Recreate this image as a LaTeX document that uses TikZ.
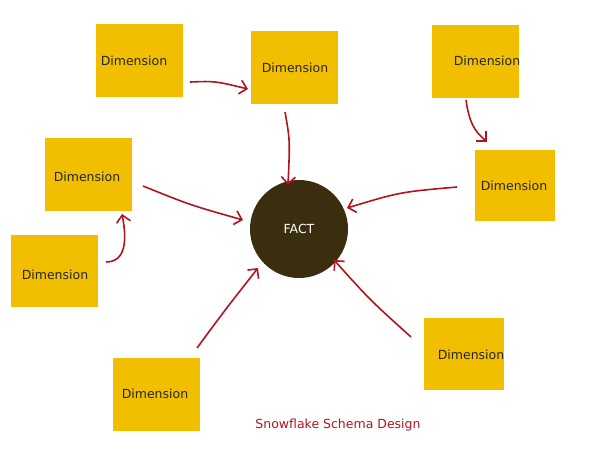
\documentclass[tikz,border=0pt]{standalone}
\usepackage{fontspec}
\setmainfont{DejaVu Sans}
\usetikzlibrary{arrows.meta}
\definecolor{boxy}{HTML}{F2BF00}
\definecolor{factc}{HTML}{3A2E0E}
\definecolor{arr}{HTML}{B0141E}
\begin{document}
\begin{tikzpicture}[x=1pt,y=-1pt,
  dim/.style={fill=boxy,minimum width=87pt,minimum height=73pt,inner sep=0pt},
  lbl/.style={font=\fontsize{12.5}{14}\selectfont,text=black!85},
  con/.style={draw=arr,line width=1.6pt,-{Straight Barb[length=7pt,width=14pt]}}]
\useasboundingbox (0,0) rectangle (609,450);
\node[dim] (b1) at (139,60) {};
\node[lbl] at (134,61) {Dimension};
\node[dim] (b2) at (294,67) {};
\node[lbl] at (295,68) {Dimension};
\node[dim] (b3) at (475,61) {};
\node[lbl] at (487,61) {Dimension};
\node[dim,minimum width=80pt,minimum height=71pt] (b4) at (515,185) {};
\node[lbl] at (514,186) {Dimension};
\node[dim] (b5) at (88,174) {};
\node[lbl] at (87,177) {Dimension};
\node[dim,minimum height=72pt] (b6) at (54,271) {};
\node[lbl] at (55,275) {Dimension};
\node[dim] (b7) at (156,394) {};
\node[lbl] at (155,394) {Dimension};
\node[dim,minimum width=80pt,minimum height=72pt] (b8) at (464,354) {};
\node[lbl] at (471,355) {Dimension};
\node[circle,fill=factc,minimum size=98pt,text=white,font=\fontsize{12.5}{14}\selectfont] (f) at (299,229) {FACT};
\node[text=arr,font=\fontsize{12.5}{14}\selectfont] (t) at (338,425) {Snowflake Schema Design};
\coordinate (a1) at (190,82); \coordinate (a1e) at (248,89);
\draw[con] (a1) .. controls (215,81) .. (a1e);
\coordinate (a2) at (285,112); \coordinate (a2e) at (288,185);
\draw[con] (a2) .. controls (290,140) .. (a2e);
\coordinate (a3) at (466,100); \coordinate (a3e) at (487,142);
\draw[con] (a3) .. controls (470,130) and (480,135) .. (a3e);
\coordinate (a4) at (457,187); \coordinate (a4e) at (347,208);
\draw[con] (a4) .. controls (400,192) .. (a4e);
\coordinate (a5) at (143,186); \coordinate (a5e) at (243,220);
\draw[con] (a5) .. controls (190,205) .. (a5e);
\coordinate (a6) at (106,262); \coordinate (a6e) at (122,214);
\draw[con] (a6) .. controls (130,262) and (125,230) .. (a6e);
\coordinate (a7) at (197,348); \coordinate (a7e) at (258,268);
\draw[con] (a7) .. controls (225,310) .. (a7e);
\coordinate (a8) at (411,337); \coordinate (a8e) at (334,260);
\draw[con] (a8) .. controls (370,300) .. (a8e);
\end{tikzpicture}
\end{document}
